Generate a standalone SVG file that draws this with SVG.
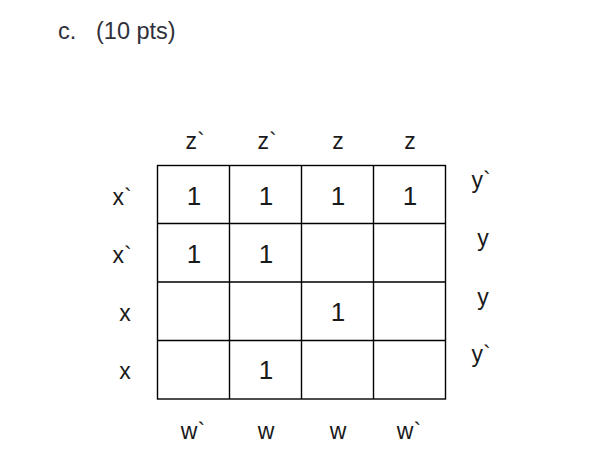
<svg xmlns="http://www.w3.org/2000/svg" width="601" height="474" viewBox="0 0 601 474">
<style>
text{font-family:"Liberation Sans",Arial,sans-serif;fill:#1a1a1a}
.t{font-size:23.5px;fill:#30303a}
.l{font-size:23px;text-anchor:middle}
.n{font-size:26px;text-anchor:middle}
.g{stroke:#000;stroke-width:1.4;fill:none}
</style>
<rect width="601" height="474" fill="#fff"/>
<text class="t" x="58" y="38.5">c.</text>
<text class="t" x="96" y="38.5">(10 pts)</text>
<g id="grid">
<rect class="g" x="157.5" y="165.5" width="288" height="233.5"/>
<path class="g" d="M229.5 165.5V399M301.5 165.5V399M373.5 165.5V399M157.5 223.5H445.5M157.5 282H445.5M157.5 340.5H445.5"/>
</g>
<g id="top-labels">
<text class="l" x="195" y="149">z`</text>
<text class="l" x="267" y="149">z`</text>
<text class="l" x="338" y="149">z</text>
<text class="l" x="410" y="149">z</text>
</g>
<g id="left-labels">
<text class="l" x="122" y="205">x`</text>
<text class="l" x="122" y="263">x`</text>
<text class="l" x="125" y="321">x</text>
<text class="l" x="125" y="379">x</text>
</g>
<g id="right-labels">
<text class="l" x="481" y="188">y`</text>
<text class="l" x="483" y="246">y</text>
<text class="l" x="483" y="305">y</text>
<text class="l" x="481" y="362">y`</text>
</g>
<g id="bottom-labels">
<text class="l" x="193" y="439">w`</text>
<text class="l" x="266" y="439">w</text>
<text class="l" x="338" y="439">w</text>
<text class="l" x="409" y="439">w`</text>
</g>
<g id="cells">
<text class="n" x="194" y="204.5">1</text>
<text class="n" x="266" y="204.5">1</text>
<text class="n" x="338" y="204.5">1</text>
<text class="n" x="410" y="204.5">1</text>
<text class="n" x="194" y="262.5">1</text>
<text class="n" x="266" y="262.5">1</text>
<text class="n" x="338" y="321">1</text>
<text class="n" x="266" y="379">1</text>
</g>
</svg>
